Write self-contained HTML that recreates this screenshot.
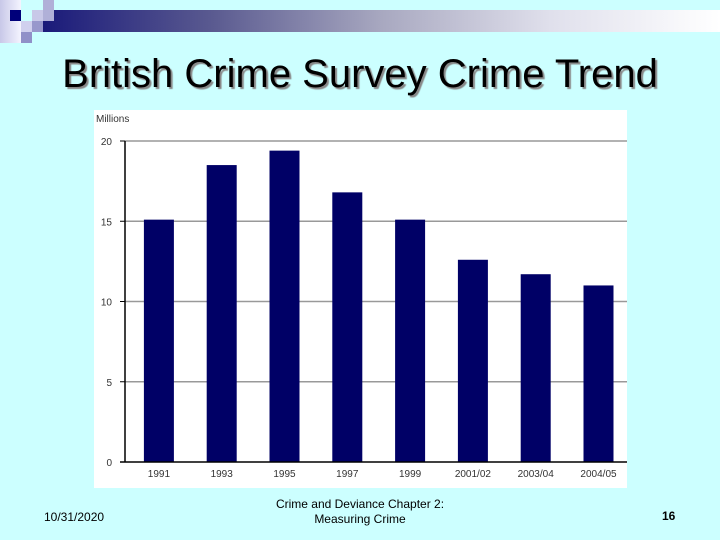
<!DOCTYPE html>
<html><head><meta charset="utf-8"><style>
body{margin:0;width:720px;height:540px;background:#ccffff;position:relative;overflow:hidden;font-family:"Liberation Sans",sans-serif}
.a{position:absolute}
</style></head><body>
<div class="a" style="left:43px;top:10px;width:677px;height:22px;background:linear-gradient(90deg,#1a1a7a 0%,#5a5a90 25%,#a8a8c0 50%,#e0e0ec 75%,#fff 100%)"></div>
<div class="a" style="left:0;top:0;width:21px;height:43px;background:linear-gradient(90deg,#c8c8e8,#f4f4ff)"></div>
<div class="a" style="left:10px;top:10px;width:11px;height:11px;background:#00007a"></div>
<div class="a" style="left:32px;top:10px;width:11px;height:11px;background:#c8c8e8"></div>
<div class="a" style="left:43px;top:0;width:11px;height:21px;background:#b0b0d8"></div>
<div class="a" style="left:21px;top:21px;width:11px;height:11px;background:#d0d0ee"></div>
<div class="a" style="left:32px;top:21px;width:11px;height:11px;background:#9898cc"></div>
<div class="a" style="left:21px;top:32px;width:11px;height:11px;background:#9090c8"></div>
<div class="a" style="left:0;width:720px;top:52px;text-align:center;font-size:40px;color:#000;text-shadow:2px 2px 1px #888">British Crime Survey Crime Trend</div>
<svg class="a" style="left:0;top:0" width="720" height="540">
<rect x="94" y="110" width="533" height="378" fill="#fff"/>
<g id="g"></g>
</svg>
<div class="a" style="left:44px;top:510px;font-size:12px">10/31/2020</div>
<div class="a" style="left:260px;width:200px;top:497px;font-size:12px;text-align:center;line-height:15px">Crime and Deviance Chapter 2:<br>Measuring Crime</div>
<div class="a" style="left:662px;top:509px;font-size:12px;font-weight:bold">16</div>
<script>
const categories=["1991","1993","1995","1997","1999","2001/02","2003/04","2004/05"];
const values=[15.1,18.5,19.4,16.8,15.1,12.6,11.7,11.0];
const ticks=[0,5,10,15,20];
const NS="http://www.w3.org/2000/svg",g=document.getElementById('g');
const y=v=>462-v*16.05, x0=125, step=62.8, bw=30;
function mk(t,a){const e=document.createElementNS(NS,t);for(const k in a)e.setAttribute(k,a[k]);g.appendChild(e);return e;}
ticks.forEach(t=>{
 if(t>0){const l=mk('line',{x1:x0,x2:627,y1:y(t),y2:y(t),stroke:'#999','stroke-width':1.5});
 
 }
 const k=mk('line',{x1:x0-5,x2:x0,y1:y(t),y2:y(t),stroke:'#000'});
 
 
 const tx=mk('text',{x:112,y:y(t)+4,'text-anchor':'end','font-size':10,fill:'#333','font-family':'Liberation Sans'});
 tx.textContent=t;
 
 
});
const un=mk('text',{x:96,y:122,'font-size':10,fill:'#333','font-family':'Liberation Sans'});un.textContent='Millions';


values.forEach((v,i)=>{
 const cx=x0+2.5+step*(i+0.5);
 const r=mk('rect',{x:cx-bw/2,y:y(v),width:bw,height:y(0)-y(v),fill:'#000066'});
 
 
 const t=mk('text',{x:cx,y:477,'text-anchor':'middle','font-size':10,fill:'#333','font-family':'Liberation Sans'});
 t.textContent=categories[i];
 
 
});
const ax=mk('line',{x1:x0,x2:x0,y1:y(20),y2:y(0),stroke:'#000','stroke-width':1.5});


const bx=mk('line',{x1:x0-5,x2:627,y1:y(0),y2:y(0),stroke:'#000','stroke-width':1.5});


</script>
</body></html>
